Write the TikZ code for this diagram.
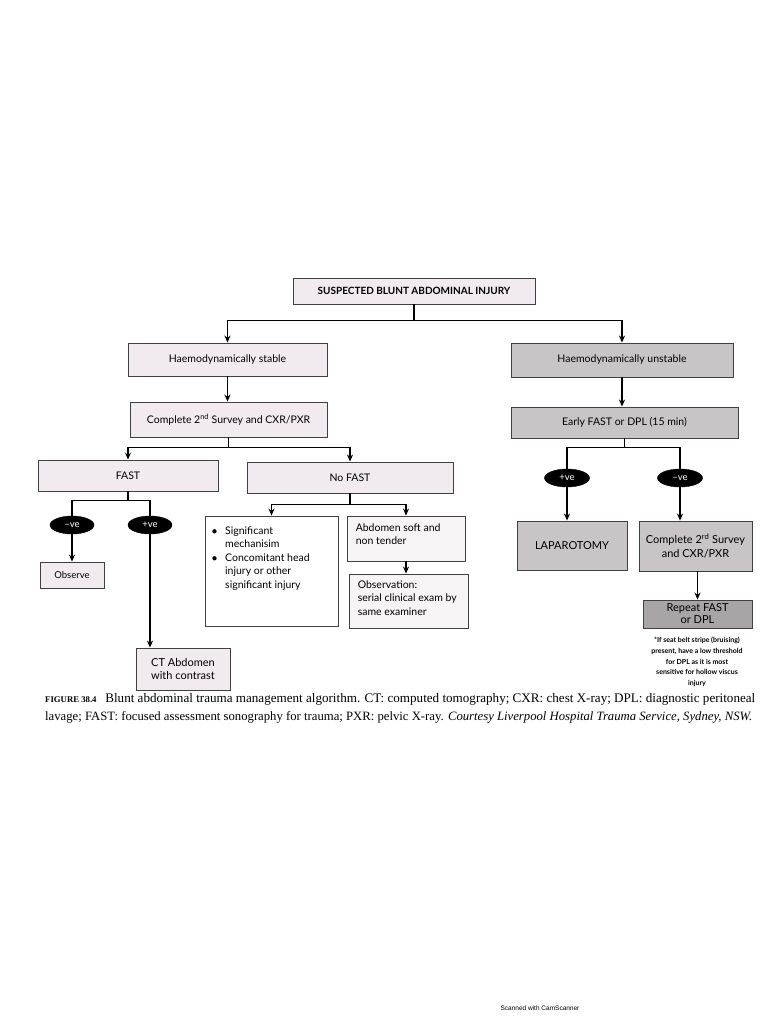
\documentclass[tikz,border=0pt]{standalone}
\usepackage{fontspec}
\usepackage{graphicx}
\setmainfont{Lato}
\newfontfamily\capfont{Liberation Serif}
\newfontfamily\scanfont{Liberation Sans}
\usetikzlibrary{arrows.meta,shapes.geometric}
\definecolor{pinkbox}{HTML}{F1EBEF}
\definecolor{graybox}{HTML}{C9C5C7}
\definecolor{darkbox}{HTML}{A9A5A7}
\definecolor{softbox}{HTML}{F7F4F6}
\tikzset{
  box/.style={draw=black!75, line width=0.9pt, fill=pinkbox, inner sep=2pt, align=center, font=\fontsize{10.5}{12.5}\selectfont},
  gbox/.style={box, fill=graybox},
  oval/.style={ellipse, fill=black, draw=black, text=white, minimum width=44pt, minimum height=18pt, inner sep=0pt, font=\fontsize{9.5}{10}\selectfont},
  arr/.style={line width=1.2pt, -{Stealth[length=7pt,width=6pt]}},
  ln/.style={line width=1.2pt},
  btxt/.style={anchor=north west, inner sep=0pt, align=left, font=\fontsize{10.5}{13.5}\selectfont},
  captxt/.style={anchor=base west, inner sep=0pt, font=\capfont\fontsize{12}{14}\selectfont}
}
\begin{document}
\begin{tikzpicture}[x=1pt,y=-1pt]
\useasboundingbox[fill=white] (0,0) rectangle (768,1024);

% nodes
\node[box, minimum width=242pt, minimum height=26pt, font=\fontsize{10}{11}\selectfont\bfseries] (top) at (414,291) {SUSPECTED BLUNT ABDOMINAL INJURY};
\node[box, minimum width=199pt, minimum height=33pt] (stable) at (227.5,359.5) {Haemodynamically stable};
\node[gbox, minimum width=222pt, minimum height=34pt] (unstable) at (622,360) {Haemodynamically unstable};
\node[box, minimum width=197pt, minimum height=35pt] (complete) at (228.5,419.5) {Complete 2\textsuperscript{nd} Survey and CXR/PXR};
\node[gbox, minimum width=227pt, minimum height=31pt] (early) at (624.5,422.5) {Early FAST or DPL (15 min)};
\node[box, minimum width=180pt, minimum height=31pt] (fast) at (128,475.5) {FAST};
\node[box, minimum width=206pt, minimum height=31pt] (nofast) at (350,477.5) {No FAST};
\node[oval] (neg1) at (72,525) {--ve};
\node[oval] (pos1) at (150,525) {+ve};
\node[box, minimum width=64pt, minimum height=26pt, font=\fontsize{9.5}{11}\selectfont] (observe) at (72,575) {Observe};
\node[box, minimum width=94pt, minimum height=42pt, font=\fontsize{11}{13.5}\selectfont] (ct) at (183,669) {CT Abdomen\\with contrast};
\node[box, fill=white, minimum width=133pt, minimum height=110pt] (bullets) at (271.5,571) {};
\node[btxt] (btext) at (bullets.north west) [xshift=7pt, yshift=-9pt]
  {\begin{tabular}{@{}l@{\hspace{8pt}}l@{}}$\bullet$ & Significant\\ & mechanisim\\ $\bullet$ & Concomitant head\\ & injury or other\\ & significant injury\end{tabular}};
\node[box, fill=softbox, minimum width=118pt, minimum height=45pt] (soft) at (406,538.5) {};
\node[btxt] (softt) at (soft.north west) [xshift=9pt, yshift=-8pt] {Abdomen soft and\\non tender};
\node[box, fill=softbox, minimum width=119pt, minimum height=54pt] (obs) at (408.5,601) {};
\node[btxt] (obst) at (obs.north west) [xshift=9pt, yshift=-7pt] {Observation:\\serial clinical exam by\\same examiner};
\node[oval, minimum width=45pt] (pos2) at (567,478) {+ve};
\node[oval, minimum width=45pt] (neg2) at (680,478) {--ve};
\node[gbox, minimum width=110pt, minimum height=49pt, font=\fontsize{11}{13}\selectfont] (lap) at (572,545.5) {LAPAROTOMY};
\node[gbox, minimum width=113pt, minimum height=50pt, font=\fontsize{11}{13.5}\selectfont] (comp2) at (695.5,546) {Complete 2\textsuperscript{rd} Survey\\and CXR/PXR};
\node[box, fill=darkbox, minimum width=109pt, minimum height=28pt, font=\fontsize{11}{12}\selectfont] (repeat) at (697.5,614) {Repeat FAST\\or DPL};
\node[align=center, inner sep=0pt, font=\fontsize{7}{10.8}\selectfont\bfseries] (note) at (697,662) {*If seat belt stripe (bruising)\\present, have a low threshold\\for DPL as it is most\\sensitive for hollow viscus\\injury};

% connectors
\draw[arr] (top.south) -- ++(0,16) -| (stable.north);
\draw[arr] (top.south) -- ++(0,16) -| (unstable.north);
\draw[arr] (stable.south) -- (stable.south |- complete.north);
\draw[arr] (unstable) -- (unstable |- early.north);
\draw[arr] (complete.south) -- ++(0,10) -| (fast.north);
\draw[arr] (complete.south) -- ++(0,10) -| (nofast.north);
\draw[ln] (fast.south) -- ++(0,9) -| (neg1.north);
\draw[ln] (fast.south) -- ++(0,9) -| (pos1.north);
\draw[arr] (neg1) -- (observe);
\draw[arr] (pos1) -- (pos1 |- ct.north);
\draw[arr] (nofast.south) -- ++(0,11) -| (bullets.north);
\draw[arr] (nofast.south) -- ++(0,11) -| (soft.north);
\draw[arr] (soft) -- (soft |- obs.north);
\draw[ln] (early.south) -- ++(0,9) -| (pos2.north);
\draw[ln] (early.south) -- ++(0,9) -| (neg2.north);
\draw[arr] (pos2) -- (pos2 |- lap.north);
\draw[arr] (neg2) -- (neg2 |- comp2.north);
\draw[arr] (comp2.south -| repeat.north) -- (repeat.north);

% caption
\node[captxt] (cap1) at (45,702)
  {\resizebox{710pt}{!}{{\fontsize{8}{9}\selectfont\bfseries FIGURE 38.4}\hspace{8pt}Blunt abdominal trauma management algorithm. CT: computed tomography; CXR: chest X-ray; DPL: diagnostic peritoneal}};
\node[captxt] (cap2) at (45,720)
  {\resizebox{707pt}{!}{lavage; FAST: focused assessment sonography for trauma; PXR: pelvic X-ray. \textit{Courtesy Liverpool Hospital Trauma Service, Sydney, NSW.}}};
\node[font=\scanfont\fontsize{6.5}{7}\selectfont] (scan) at (540,1008) {Scanned with CamScanner};
\end{tikzpicture}
\end{document}
